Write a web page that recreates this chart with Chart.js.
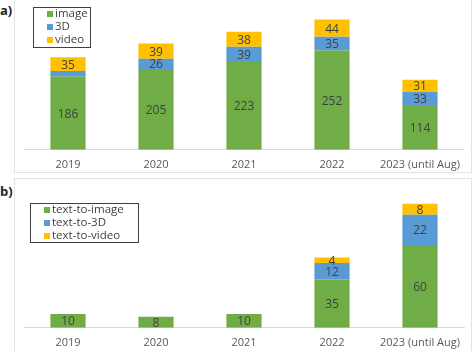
<!DOCTYPE html>
<html lang="en">
<head>
    <meta charset="UTF-8">
    <title>Generative AI models per year</title>
    <style>
        body {
            margin: 0;
            background: white;
            font-family: "Open Sans", Arial, sans-serif;
        }
        .frame {
            position: absolute;
            border: 1px solid #e2e2e2;
            box-sizing: border-box;
        }
        .tag {
            position: absolute;
            left: 0;
            font-size: 13px;
            font-weight: bold;
            color: #222;
        }
        canvas {
            position: absolute;
        }
    </style>
    <script src="https://cdn.jsdelivr.net/npm/chart.js"></script>
</head>
<body>
    <div class="frame" style="left:14px; top:-1px; width:458px; height:174px;"></div>
    <div class="frame" style="left:14px; top:178px; width:458px; height:180px;"></div>
    <div class="tag" style="top:1px;">a)</div>
    <div class="tag" style="top:182px;">b)</div>
    <canvas id="chartA" width="456" height="172" style="left:14px; top:0px;"></canvas>
    <canvas id="chartB" width="456" height="172" style="left:14px; top:179px;"></canvas>
    <script>
        var years = ['2019', '2020', '2021', '2022', '2023 (until Aug)'];

        // panel a
        var imageCounts = [186, 205, 223, 252, 114];
        var threeDCounts = [14, 26, 39, 35, 33];
        var videoCounts = [35, 39, 38, 44, 31];

        // panel b
        var textToImage = [10, 8, 10, 35, 60];
        var textTo3D = [0, 0, 0, 12, 22];
        var textToVideo = [0, 0, 0, 4, 8];

        var green = '#70ad47';
        var blue = '#5b9bd5';
        var gold = '#ffc000';
        var textColor = '#404040';

        // writes the value in the middle of each bar piece
        var valueLabels = {
            id: 'valueLabels',
            afterDatasetsDraw: function (chart, args, opts) {
                var ctx = chart.ctx;
                var skip = opts.skip || [];
                ctx.save();
                ctx.font = '12px "Open Sans", Arial, sans-serif';
                ctx.fillStyle = textColor;
                ctx.textAlign = 'center';
                ctx.textBaseline = 'middle';
                chart.data.datasets.forEach(function (ds, di) {
                    chart.getDatasetMeta(di).data.forEach(function (bar, i) {
                        var v = ds.data[i];
                        if (!v) return;
                        if (skip.some(function (s) { return s[0] === di && s[1] === i; })) return;
                        ctx.fillText(v, bar.x, (bar.y + bar.base) / 2 + 1);
                    });
                });
                ctx.restore();
            }
        };

        // boxed legend sitting inside the plot
        var boxLegend = {
            id: 'boxLegend',
            afterDraw: function (chart, args, opts) {
                var ctx = chart.ctx;
                ctx.save();
                ctx.strokeStyle = '#404040';
                ctx.lineWidth = 1;
                ctx.strokeRect(opts.x + 0.5, opts.y + 0.5, opts.w, opts.h);
                ctx.font = '11.5px "Open Sans", Arial, sans-serif';
                ctx.textBaseline = 'middle';
                chart.data.datasets.forEach(function (ds, di) {
                    var cy = opts.y + 7 + di * 13;
                    ctx.fillStyle = ds.backgroundColor;
                    ctx.fillRect(opts.x + 14, cy - 3, 6, 6);
                    ctx.fillStyle = textColor;
                    ctx.fillText(ds.label, opts.x + 22, cy);
                });
                ctx.restore();
            }
        };

        function makeChart(id, labels, sets, yMax, padTop, padBottom, legendBox, skip) {
            return new Chart(document.getElementById(id), {
                type: 'bar',
                data: {
                    labels: years,
                    datasets: sets.map(function (d, k) {
                        return {
                            label: labels[k],
                            data: d,
                            backgroundColor: [green, blue, gold][k],
                            barPercentage: 0.4,
                            categoryPercentage: 1.0
                        };
                    })
                },
                options: {
                    responsive: false,
                    animation: false,
                    layout: { padding: { left: 10, right: 6, top: padTop, bottom: padBottom } },
                    plugins: {
                        legend: { display: false },
                        tooltip: { enabled: false },
                        valueLabels: { skip: skip },
                        boxLegend: legendBox
                    },
                    scales: {
                        x: {
                            stacked: true,
                            grid: { display: false },
                            border: { color: '#d9d9d9' },
                            ticks: {
                                color: '#595959',
                                font: { size: 11, family: '"Open Sans", Arial, sans-serif' },
                                padding: 0
                            }
                        },
                        y: {
                            stacked: true,
                            display: false,
                            min: 0,
                            max: yMax
                        }
                    }
                },
                plugins: [valueLabels, boxLegend]
            });
        }

        makeChart('chartA', ['image', '3D', 'video'],
            [imageCounts, threeDCounts, videoCounts], 350, 12, 1,
            { x: 19, y: 7, w: 57, h: 40 }, [[1, 0]]);

        makeChart('chartB', ['text-to-image', 'text-to-3D', 'text-to-video'],
            [textToImage, textTo3D, textToVideo], 100, 11, 2,
            { x: 16, y: 24, w: 108, h: 39 }, []);
    </script>
</body>
</html>
